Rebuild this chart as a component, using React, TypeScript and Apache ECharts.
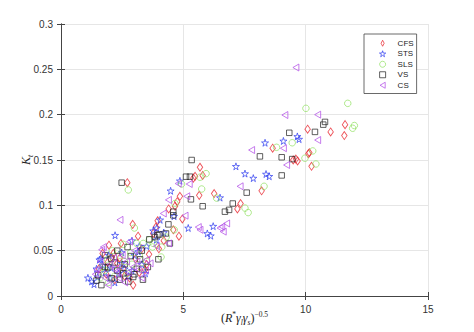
import React, { useEffect, useRef } from "react";
import * as echarts from "echarts";

const seriesNames = ["CFS", "STS", "SLS", "VS", "CS"];
const xTicks = [0, 5, 10, 15];
const yTicks = [0, 0.05, 0.1, 0.15, 0.2, 0.25, 0.3];

const cfs = [
  [2.71, 0.125], [2.93, 0.079], [1.96, 0.056], [2.14, 0.047], [2.07, 0.043], [3.43, 0.029],
  [3.77, 0.069], [3.88, 0.076], [4.59, 0.073], [4.82, 0.066], [4.66, 0.099], [4.86, 0.110],
  [4.96, 0.085], [5.41, 0.130], [5.48, 0.132], [5.68, 0.142], [5.79, 0.133], [5.65, 0.111],
  [6.26, 0.113], [7.21, 0.096], [7.34, 0.102], [8.20, 0.116], [8.65, 0.163], [9.49, 0.150],
  [9.60, 0.151], [9.67, 0.149], [10.08, 0.184], [10.11, 0.157], [10.15, 0.158], [10.24, 0.143],
  [11.02, 0.181], [11.58, 0.177], [11.61, 0.189], [1.55, 0.030], [1.85, 0.024], [2.30, 0.036],
  [2.55, 0.031], [2.80, 0.020], [3.05, 0.041], [3.30, 0.052], [2.45, 0.058], [3.60, 0.046],
  [4.20, 0.061], [3.15, 0.066], [4.40, 0.096], [1.70, 0.047], [2.95, 0.012], [3.95, 0.083],
  [4.75, 0.104], [4.00, 0.052], [2.20, 0.018], [2.60, 0.022], [3.20, 0.026], [1.90, 0.037],
  [2.40, 0.042], [3.50, 0.035],
];

const sts = [
  [1.10, 0.020], [1.25, 0.016], [1.35, 0.013], [1.57, 0.040], [1.62, 0.041], [1.50, 0.021],
  [1.80, 0.026], [2.00, 0.020], [2.20, 0.015], [2.21, 0.067], [2.48, 0.036], [2.48, 0.048],
  [2.60, 0.030], [3.00, 0.045], [3.16, 0.049], [3.30, 0.035], [3.50, 0.055], [2.90, 0.061],
  [1.70, 0.034], [3.77, 0.072], [3.91, 0.075], [3.90, 0.062], [4.05, 0.084], [4.20, 0.070],
  [4.48, 0.116], [4.62, 0.088], [4.86, 0.127], [5.20, 0.075], [5.98, 0.069], [6.12, 0.0665],
  [6.22, 0.077], [6.50, 0.1085], [7.15, 0.143], [7.52, 0.135], [7.86, 0.130], [8.34, 0.169],
  [8.38, 0.1345], [8.51, 0.132], [9.09, 0.171], [9.66, 0.176], [9.73, 0.173], [2.75, 0.022],
  [3.45, 0.025], [1.45, 0.030], [2.35, 0.025], [2.90, 0.028], [1.95, 0.045], [3.20, 0.055],
  [2.05, 0.031],
];

const sls = [
  [1.60, 0.020], [1.70, 0.032], [1.90, 0.040], [2.10, 0.050], [2.30, 0.028], [2.55, 0.057],
  [2.70, 0.025], [2.75, 0.117], [2.90, 0.035], [3.00, 0.075], [3.09, 0.058], [3.20, 0.045],
  [3.36, 0.058], [3.50, 0.038], [3.61, 0.062], [3.74, 0.054], [3.77, 0.058], [4.09, 0.043],
  [4.12, 0.054], [4.30, 0.065], [4.63, 0.073], [4.66, 0.102], [4.93, 0.1235], [5.68, 0.131],
  [5.75, 0.118], [5.93, 0.135], [6.36, 0.108], [7.52, 0.097], [7.65, 0.092], [8.30, 0.121],
  [8.81, 0.164], [9.45, 0.169], [9.97, 0.152], [10.01, 0.207], [10.29, 0.160], [10.42, 0.1456],
  [11.72, 0.2125], [11.92, 0.185], [11.99, 0.188], [2.40, 0.045], [1.95, 0.015], [2.20, 0.022],
  [2.60, 0.038], [3.30, 0.030], [2.85, 0.048], [1.80, 0.028],
];

const vs = [
  [1.45, 0.017], [1.52, 0.023], [1.80, 0.032], [1.80, 0.045], [1.93, 0.0316], [2.07, 0.0195],
  [2.20, 0.037], [2.41, 0.018], [2.48, 0.125], [2.55, 0.025], [2.72, 0.054], [2.75, 0.016],
  [2.85, 0.044], [2.95, 0.021], [3.10, 0.030], [3.23, 0.0405], [3.61, 0.0625], [3.84, 0.065],
  [3.94, 0.067], [3.98, 0.0405], [4.02, 0.068], [4.29, 0.069], [4.45, 0.058], [4.39, 0.079],
  [4.59, 0.093], [4.59, 0.089], [5.11, 0.1316], [5.27, 0.1316], [5.31, 0.1066], [5.34, 0.150],
  [5.79, 0.099], [6.70, 0.093], [6.87, 0.095], [7.02, 0.102], [7.59, 0.114], [8.13, 0.154],
  [9.02, 0.153], [9.02, 0.133], [9.33, 0.180], [9.45, 0.151], [10.38, 0.181], [10.72, 0.189],
  [10.79, 0.192], [1.65, 0.012], [3.35, 0.018], [2.30, 0.050], [2.30, 0.028], [2.60, 0.035],
  [3.00, 0.024], [3.30, 0.050], [2.05, 0.041], [3.55, 0.032],
];

const cs = [
  [1.40, 0.024], [1.46, 0.029], [1.66, 0.051], [1.73, 0.054], [1.80, 0.020], [1.93, 0.012],
  [2.00, 0.035], [2.20, 0.030], [2.27, 0.027], [2.41, 0.084], [2.50, 0.045], [2.60, 0.015],
  [2.68, 0.038], [2.80, 0.060], [2.95, 0.032], [3.00, 0.050], [3.16, 0.029], [3.30, 0.020],
  [3.50, 0.040], [3.64, 0.036], [3.90, 0.055], [4.18, 0.091], [4.39, 0.058], [4.39, 0.106],
  [4.79, 0.124], [5.07, 0.0886], [5.14, 0.110], [5.24, 0.1235], [5.61, 0.076], [5.68, 0.073],
  [6.50, 0.075], [6.57, 0.0765], [6.63, 0.071], [6.77, 0.080], [7.32, 0.121], [7.79, 0.161],
  [9.09, 0.163], [9.15, 0.1996], [9.22, 0.1445], [9.60, 0.252], [10.49, 0.200], [10.49, 0.172],
  [2.35, 0.020], [2.75, 0.026], [3.10, 0.038], [2.15, 0.042], [3.45, 0.028], [1.60, 0.038],
];

const seriesData = [cfs, sts, sls, vs, cs];
const colors = ["#e8262e", "#2f3df0", "#8fe060", "#222222", "#b04ae6"];
const STAR =
  "path://M50,0 L61,35 L98,35 L68,57 L79,91 L50,70 L21,91 L32,57 L2,35 L39,35 Z";
const TRI_LEFT = "path://M0,50 L86,0 L86,100 Z";
const DIAMOND = "path://M50,0 L86,70 L50,140 L14,70 Z";
const SQUARE = "path://M0,0 L10,0 L10,10 L0,10 Z";
const symbols = ["diamond", STAR, "circle", "rect", TRI_LEFT];
const legendIcons = [DIAMOND, STAR, "circle", SQUARE, TRI_LEFT];
const sizes: any[] = [[5.5, 8], 7, 6.5, 5.5, [6, 7]];

export default function App() {
  const ref = useRef<HTMLDivElement>(null);
  useEffect(() => {
    if (!ref.current) return;
    const chart = echarts.init(ref.current, undefined, { renderer: "svg" });
    const tickFont = { fontFamily: "Liberation Sans", fontSize: 10, color: "#333" };
    const serif = "Liberation Serif";
    chart.setOption({
      animation: false,
      backgroundColor: "#ffffff",
      grid: {
        left: 61, top: 24, width: 367, height: 272,
        containLabel: false, outerBoundsMode: "none",
      },
      legend: {
        orient: "vertical",
        left: 364,
        top: 34,
        padding: [4.5, 3, 3.5, 15],
        itemWidth: 20,
        itemHeight: 6,
        itemGap: 1,
        symbolKeepAspect: true,
        backgroundColor: "#ffffff",
        borderColor: "#444",
        borderWidth: 0.8,
        borderRadius: 0,
        textStyle: { fontFamily: "Liberation Sans", fontSize: 8, color: "#222", lineHeight: 9.5 },
        data: seriesNames.map((name, i) => ({
          name,
          icon: legendIcons[i],
          itemStyle: { color: "rgba(255,255,255,0)", borderColor: colors[i], borderWidth: 0.9 },
        })),
      },
      xAxis: [
        {
          type: "value",
          min: xTicks[0],
          max: xTicks[xTicks.length - 1],
          interval: 5,
          position: "bottom",
          axisLine: { show: true, lineStyle: { color: "#444", width: 1 } },
          axisTick: { show: true, inside: true, length: 4, lineStyle: { color: "#444" } },
          axisLabel: { ...tickFont, margin: 8 },
          splitLine: { show: true, lineStyle: { color: "#e6e6e6", width: 1 } },
          name: "{p|(}{i|R}{sp|*}{i|γ}{sb|l}{i|γ}{sb|s}{p|)}{sp|−0.5}",
          nameLocation: "middle",
          nameGap: 14,
          nameMoveOverlap: false,
          nameTextStyle: {
            color: "#222",
            rich: {
              p: { fontFamily: serif, fontSize: 12, lineHeight: 16, color: "#222" },
              i: { fontFamily: serif, fontStyle: "italic", fontSize: 12, lineHeight: 16, color: "#222" },
              sp: { fontFamily: serif, fontSize: 7.5, lineHeight: 16, verticalAlign: "top", color: "#222" },
              sb: { fontFamily: serif, fontStyle: "italic", fontSize: 7.5, lineHeight: 16, verticalAlign: "bottom", color: "#222" },
            },
          },
        },
        {
          type: "value",
          min: xTicks[0],
          max: xTicks[xTicks.length - 1],
          interval: 5,
          position: "top",
          axisLine: { show: true, lineStyle: { color: "#444", width: 1 } },
          axisTick: { show: true, inside: true, length: 4, lineStyle: { color: "#444" } },
          axisLabel: { show: false },
          splitLine: { show: false },
        },
      ],
      yAxis: [
        {
          type: "value",
          min: yTicks[0],
          max: yTicks[yTicks.length - 1],
          interval: 0.05,
          position: "left",
          axisLine: { show: true, lineStyle: { color: "#444", width: 1 } },
          axisTick: { show: true, inside: true, length: 4, lineStyle: { color: "#444" } },
          axisLabel: { ...tickFont, margin: 8 },
          splitLine: { show: true, lineStyle: { color: "#e6e6e6", width: 1 } },
          name: "{i|K}{sb|t}",
          nameLocation: "middle",
          nameGap: 27,
          nameRotate: 90,
          nameMoveOverlap: false,
          nameTextStyle: {
            color: "#222",
            rich: {
              i: { fontFamily: serif, fontStyle: "italic", fontSize: 12, lineHeight: 16, color: "#222" },
              sb: { fontFamily: serif, fontStyle: "italic", fontSize: 7.5, lineHeight: 16, verticalAlign: "bottom", color: "#222" },
            },
          },
        },
        {
          type: "value",
          min: yTicks[0],
          max: yTicks[yTicks.length - 1],
          interval: 0.05,
          position: "right",
          axisLine: { show: true, lineStyle: { color: "#444", width: 1 } },
          axisTick: { show: true, inside: true, length: 4, lineStyle: { color: "#444" } },
          axisLabel: { show: false },
          splitLine: { show: false },
        },
      ],
      series: seriesNames.map((name, i) => ({
        name,
        type: "scatter",
        xAxisIndex: 0,
        yAxisIndex: 0,
        data: seriesData[i],
        symbol: symbols[i],
        symbolSize: sizes[i],
        itemStyle: {
          color: "rgba(255,255,255,0)",
          borderColor: colors[i],
          borderWidth: 0.9,
        },
        emphasis: { disabled: true },
      })),
    });
    return () => chart.dispose();
  }, []);
  return (
    <div
      ref={ref}
      style={{ position: "fixed", left: 0, top: 0, width: 474, height: 332 }}
    />
  );
}
